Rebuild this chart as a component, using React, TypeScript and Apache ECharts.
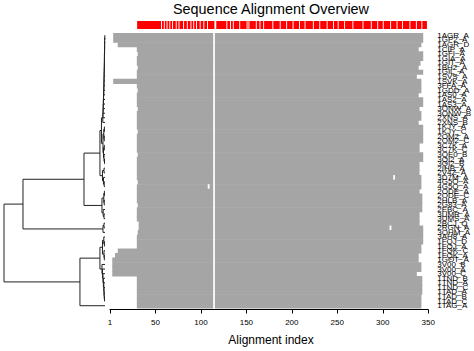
import React, { useEffect, useRef } from 'react';
import * as echarts from 'echarts';

// ---- data ----
const rowLabels = [
  '1AGR_A', '1GP2_A', '1AGR_D', '1CIP_A', '1GFI_A', '1GIA_A', '1GIT_A', '1BH2_A', '1GIL_A', '1SVS_A',
  '1SVK_A', '3FFA_A', '1GDD_A', '1AS0_A', '1AS2_A', '1AS3_A', '3ONW_A', '3ONW_B', '2XNS_A', '2XNS_B',
  '1KJY_A', '1KJY_C', '2OM2_A', '2OM2_C', '3C7K_A', '3C7K_C', '3QE0_B', '3QI2_A', '3QI2_B', '2IHB_A',
  '2V4Z_A', '3D7M_A', '4G5O_A', '4G5Q_A', '2ODE_A', '2ODE_C', '2HLB_A', '2G83_A', '2EBC_A', '3UMR_A',
  '3UMS_A', '2BCJ_Q', '2RGN_A', '3OHM_A', '3AH8_A', '1FQJ_D', '1FQJ_A', '1FQK_C', '1FQK_A', '1GOT_A',
  '3V00_B', '3V00_A', '3V00_C', '1TND_B', '1TND_A', '1TND_C', '1TAD_A', '1TAD_B', '1TAD_C', '1TAG_A',
];

// first and last aligned (non-gap) column of each sequence
const rowStarts = [
  4, 4, 9, 30, 31, 30, 30, 31, 30, 30,
  4, 30, 31, 30, 30, 30, 31, 30, 30, 30,
  30, 31, 30, 30, 30, 30, 31, 30, 30, 30,
  30, 30, 31, 30, 30, 30, 30, 31, 30, 30,
  30, 32, 32, 31, 30, 30, 30, 9, 6, 3,
  3, 3, 3, 30, 30, 30, 30, 30, 30, 30,
];
const rowEnds = [
  344, 344, 342, 339, 344, 344, 341, 339, 344, 337,
  342, 342, 342, 339, 344, 344, 340, 342, 342, 339,
  344, 344, 344, 344, 340, 340, 344, 344, 340, 340,
  340, 342, 342, 342, 340, 343, 343, 343, 343, 340,
  340, 340, 344, 344, 344, 344, 342, 342, 339, 339,
  342, 342, 337, 343, 343, 343, 343, 342, 342, 342,
];

// alignment columns that are gaps in every sequence
const gapColumns = [114, 115];
// isolated gaps: [row, fromColumn, toColumn]
const holes = [
  [31, 312, 313],
  [33, 108, 109],
  [42, 308, 309],
];

// conservation bar (top): columns covered and the non-conserved columns
const conservedFrom = 30;
const conservedTo = 344;
const conservationGaps = [
  56, 59, 62, 65, 68, 72, 75, 80, 84, 88, 91, 94, 98, 102, 106, 114, 115, 127, 131, 134,
  141, 149, 151, 159, 163, 167, 177, 185, 192, 199, 206, 212, 221, 228, 236, 243, 248, 255,
  264, 275, 284, 291, 297, 305, 312, 318, 326, 333, 339,
];

const xMin = 0;
const xMax = 350;
const xInterval = 50;

// dendrogram: [height, left, right]; leaves are row indices
const chainA = [0.022, [0.02, [0.018, [0.017, [0.015, [0.014, [0.012, [0.011, [0.01, [0.009, [0.008, [0.007, [0.006, [0.006, [0.005, [0.004, [0.004, [0.003, [0.002, 0, 1], 2], 3], 4], 5], 6], 7], 8], 9], 10], 11], 12], 13], 14], 15], 16], 17], 18], 19];
const clusterA1b = [0.02, [0.012, [0.006, 20, 21], [0.008, 22, 23]], [0.015, [0.007, 24, 25], [0.01, 26, [0.005, 27, 28]]]];
const clusterA2 = [0.025, [0.01, 29, 30], [0.015, 31, [0.008, 32, 33]]];
const clusterB = [0.03, [0.012, [0.006, 34, 35], [0.008, 36, 37]], [0.018, 38, [0.01, 39, 40]]];
const clusterU2 = [0.02, [0.01, 41, 42], 43];
const clusterC1 = [0.025, [0.012, 44, [0.006, 45, 46]], [0.01, 47, [0.007, 48, 49]]];
const clusterC2 = [0.03, 50, [0.025, 51, [0.02, 52, [0.016, 53, [0.012, 54, [0.01, 55, [0.008, 56, [0.005, 57, 58]]]]]]]];
const tree = [
  1.0,
  [0.812, [0.208, [0.05, [0.035, chainA, clusterA1b], clusterA2], clusterB], clusterU2],
  [0.248, [0.05, clusterC1, clusterC2], 59],
];

// ---- styles ----
const GRAY = '#A5A5A5';
const FONT = 'Liberation Sans, Arial, Helvetica, sans-serif';
const GRID_LEFT = 110;
const GRID_RIGHT = 42;
const GRID_TOP = 33;
const GRID_HEIGHT = 275;

function buildSegments(node: any, out: number[][]): { h: number; y: number } {
  if (typeof node === 'number') return { h: 0, y: node };
  const l = buildSegments(node[1], out);
  const r = buildSegments(node[2], out);
  out.push([node[0], l.y, r.y, l.h, r.h]);
  return { h: node[0], y: (l.y + r.y) / 2 };
}

function conservedRuns(): number[][] {
  const gaps = new Set(conservationGaps);
  const runs: number[][] = [];
  let start = -1;
  for (let c = conservedFrom; c <= conservedTo + 1; c++) {
    const on = c <= conservedTo && !gaps.has(c);
    if (on && start < 0) start = c;
    if (!on && start >= 0) {
      runs.push([start, c - 1]);
      start = -1;
    }
  }
  return runs;
}

export default function App() {
  const ref = useRef<HTMLDivElement>(null);
  useEffect(() => {
    const chart = echarts.init(ref.current!, null, { renderer: 'svg' });
    const segments: number[][] = [];
    buildSegments(tree, segments);
    const nRows = rowLabels.length;

    const option: any = {
      animation: false,
      backgroundColor: '#fff',
      grid: [
        { left: GRID_LEFT, right: GRID_RIGHT, top: GRID_TOP, height: GRID_HEIGHT },
        { left: 4, width: 101, top: GRID_TOP, height: GRID_HEIGHT },
        { left: GRID_LEFT, right: GRID_RIGHT, top: 21, height: 8 },
      ],
      xAxis: [
        {
          gridIndex: 0, type: 'value', min: xMin, max: xMax, interval: xInterval, offset: 1.5,
          axisLine: { show: true, lineStyle: { color: '#000', width: 1 } },
          axisTick: { show: true, length: 4, lineStyle: { color: '#000' } },
          axisLabel: {
            fontSize: 8, color: '#000', fontFamily: FONT, margin: 9,
            formatter: (v: number) => (v === 0 ? '1' : String(v)),
          },
          splitLine: { show: false },
        },
        { gridIndex: 1, type: 'value', min: 0, max: 1, inverse: true, show: false },
        { gridIndex: 2, type: 'value', min: xMin, max: xMax, show: false },
      ],
      yAxis: [
        {
          gridIndex: 0, type: 'category', data: rowLabels, inverse: true, position: 'right',
          axisLine: { show: false }, axisTick: { show: false }, splitLine: { show: false },
          axisLabel: { interval: 0, fontSize: 8, color: '#000', fontFamily: FONT, margin: 9 },
        },
        { gridIndex: 1, type: 'value', min: -0.5, max: nRows - 0.5, inverse: true, show: false },
        { gridIndex: 2, type: 'value', min: 0, max: 1, show: false },
      ],
      graphic: [
        {
          type: 'text', x: 271, y: 8.5,
          style: {
            text: 'Sequence Alignment Overview', fontSize: 14.4, fontFamily: FONT, fill: '#000',
            textAlign: 'center', textVerticalAlign: 'middle',
          },
        },
        {
          type: 'text', x: 271, y: 340,
          style: {
            text: 'Alignment index', fontSize: 12, fontFamily: FONT, fill: '#000',
            textAlign: 'center', textVerticalAlign: 'middle',
          },
        },
      ],
      series: [
        {
          type: 'custom', coordinateSystem: 'cartesian2d', xAxisIndex: 0, yAxisIndex: 0,
          data: rowStarts.map((s, i) => [s, rowEnds[i], i]),
          encode: { x: [0, 1], y: 2 },
          renderItem: (params: any, api: any) => {
            const p0 = api.coord([api.value(0) - 0.5, api.value(2)]);
            const p1 = api.coord([api.value(1) + 0.5, api.value(2)]);
            const h = api.size([0, 1])[1];
            return {
              type: 'rect',
              shape: { x: p0[0], y: p0[1] - h / 2, width: p1[0] - p0[0], height: h + 0.6 },
              style: { fill: GRAY },
            };
          },
        },
        {
          type: 'custom', coordinateSystem: 'cartesian2d', xAxisIndex: 0, yAxisIndex: 0,
          data: gapColumns.map((c) => [c, 0]),
          encode: { x: 0, y: 1 },
          renderItem: (params: any, api: any) => {
            const a = api.coord([api.value(0) - 0.5, 0]);
            const b = api.coord([api.value(0) + 0.5, 0]);
            const cs = params.coordSys;
            return {
              type: 'rect',
              shape: { x: a[0], y: cs.y, width: b[0] - a[0], height: cs.height + 1 },
              style: { fill: '#fff' },
            };
          },
        },
        {
          type: 'custom', coordinateSystem: 'cartesian2d', xAxisIndex: 0, yAxisIndex: 0,
          data: holes.map((h) => [h[1], h[2], h[0]]),
          encode: { x: [0, 1], y: 2 },
          renderItem: (params: any, api: any) => {
            const p0 = api.coord([api.value(0) - 0.5, api.value(2)]);
            const p1 = api.coord([api.value(1) + 0.5, api.value(2)]);
            const h = api.size([0, 1])[1];
            return {
              type: 'rect',
              shape: { x: p0[0], y: p0[1] - h / 2, width: p1[0] - p0[0], height: h },
              style: { fill: '#fff' },
            };
          },
        },
        {
          type: 'custom', coordinateSystem: 'cartesian2d', xAxisIndex: 1, yAxisIndex: 1,
          data: segments,
          encode: { x: [0, 3, 4], y: [1, 2] },
          renderItem: (params: any, api: any) => {
            const h = api.value(0), y1 = api.value(1), y2 = api.value(2);
            const h1 = api.value(3), h2 = api.value(4);
            const pts = [
              api.coord([h1, y1]), api.coord([h, y1]), api.coord([h, y2]), api.coord([h2, y2]),
            ];
            return {
              type: 'polyline',
              shape: { points: pts },
              style: { stroke: '#222', lineWidth: 1, fill: null },
            };
          },
        },
        {
          type: 'custom', coordinateSystem: 'cartesian2d', xAxisIndex: 2, yAxisIndex: 2,
          data: conservedRuns().map((r) => [r[0], r[1], 0.5]),
          encode: { x: [0, 1], y: 2 },
          renderItem: (params: any, api: any) => {
            const a = api.coord([api.value(0) - 0.5, 1]);
            const b = api.coord([api.value(1) + 0.5, 0]);
            return {
              type: 'rect',
              shape: { x: a[0], y: a[1], width: b[0] - a[0], height: b[1] - a[1] },
              style: { fill: '#FF0000' },
            };
          },
        },
      ],
    };
    chart.setOption(option);
    return () => chart.dispose();
  }, []);
  return <div ref={ref} style={{ position: 'fixed', left: 0, top: 0, width: 474, height: 351 }} />;
}
